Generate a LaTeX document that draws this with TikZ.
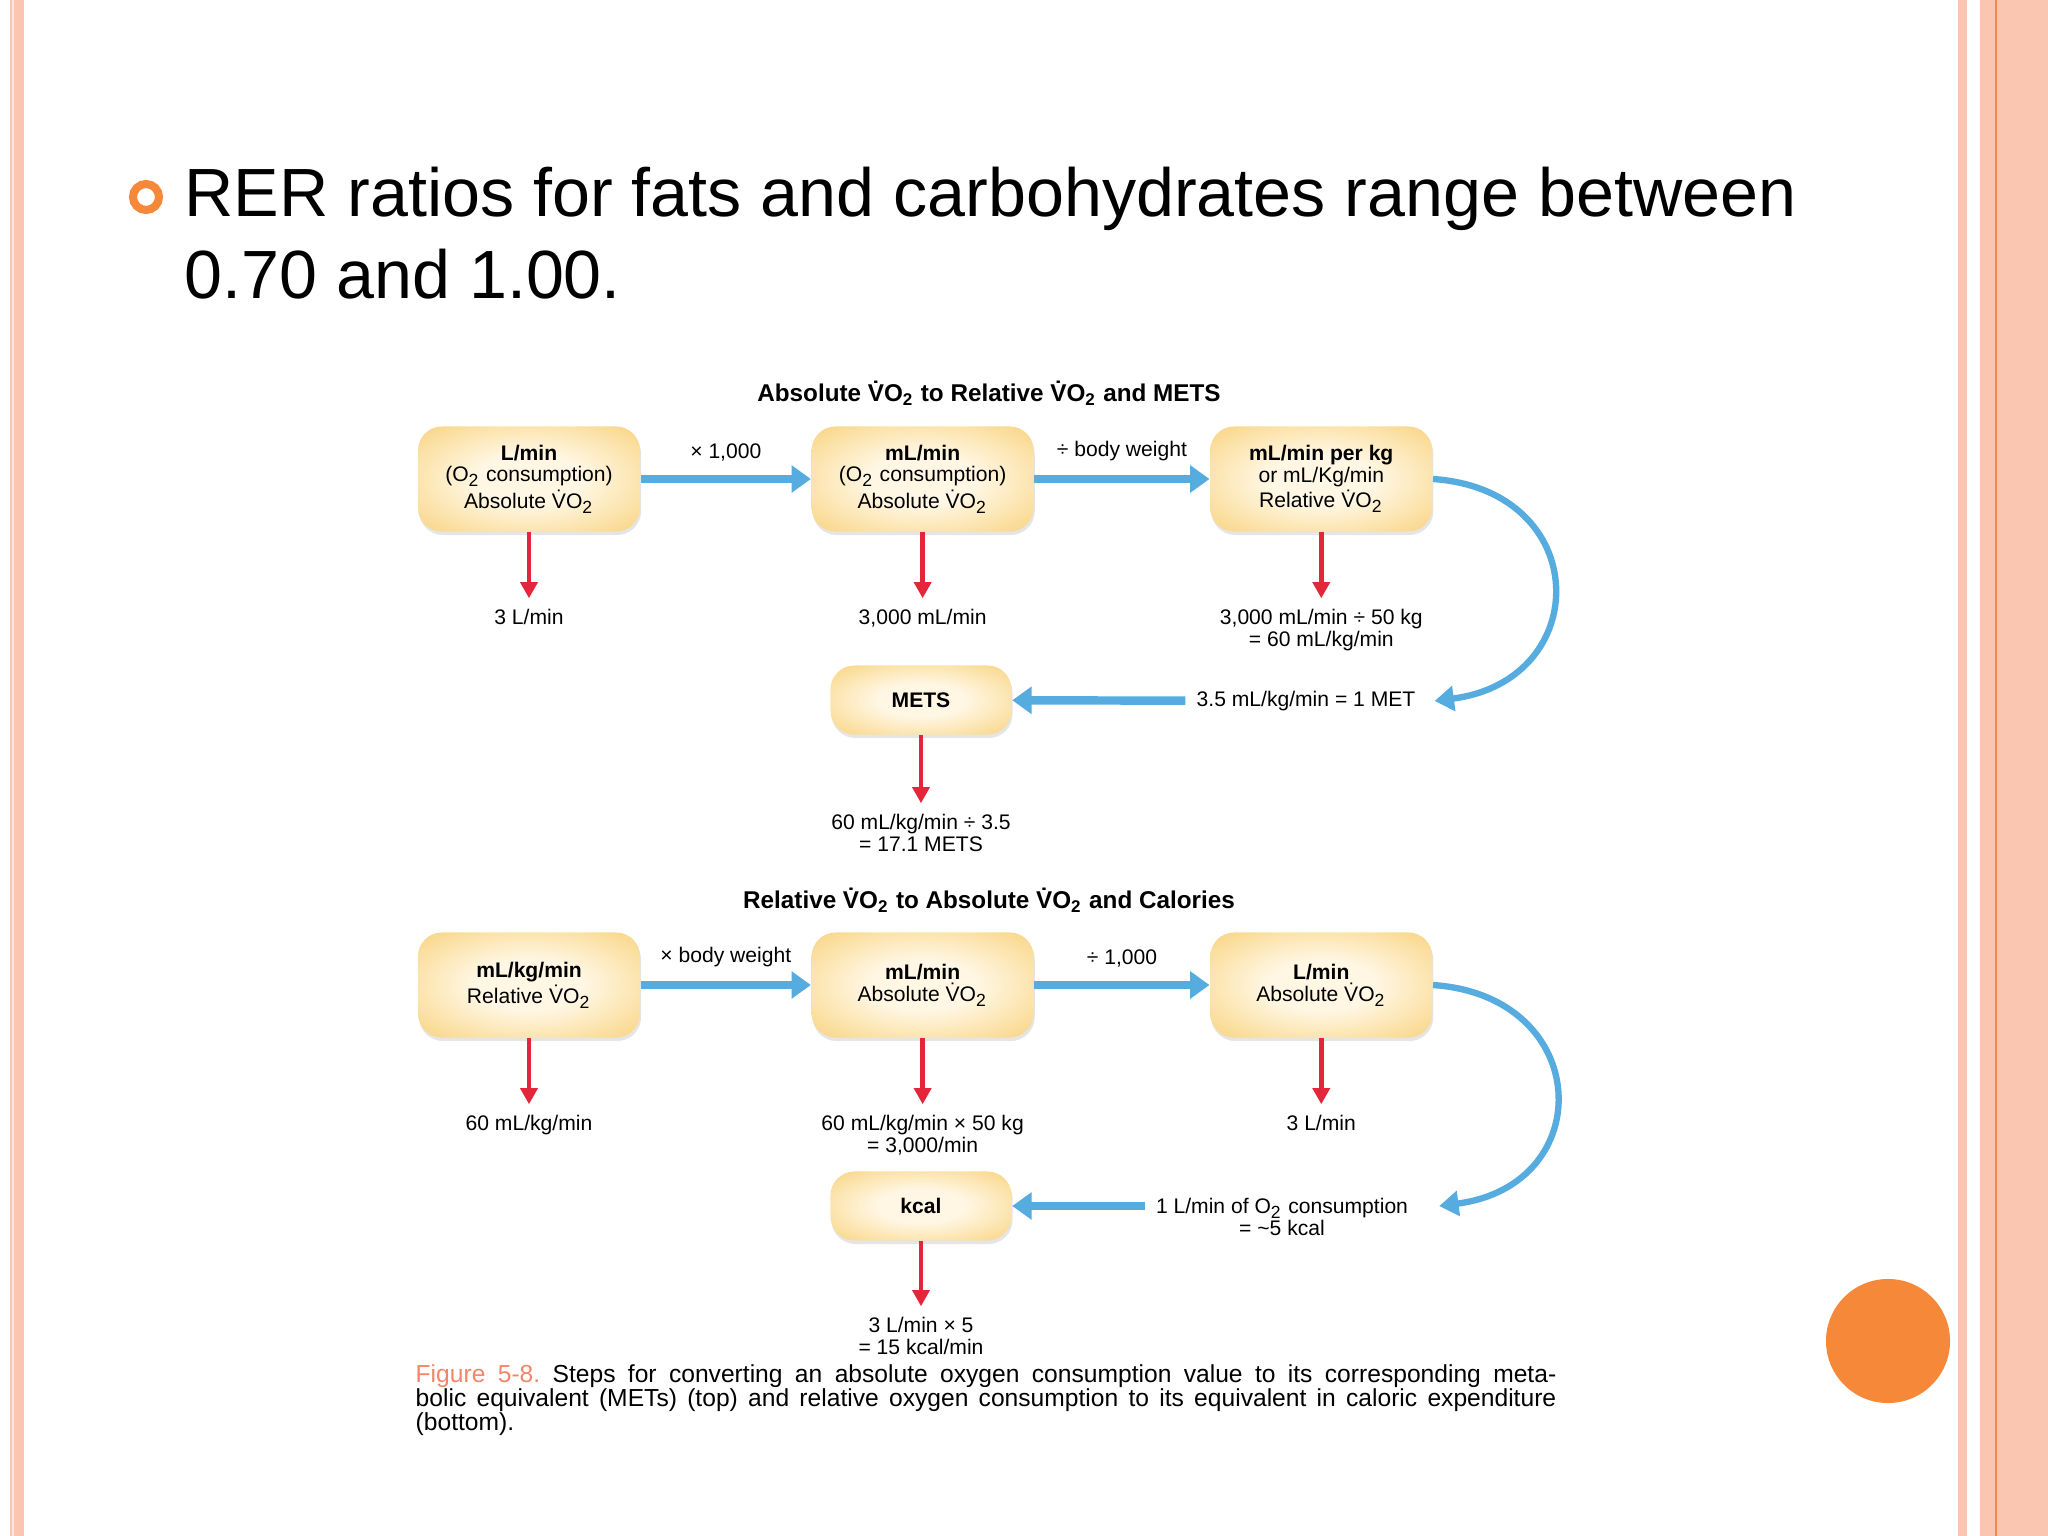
\documentclass[tikz,border=0pt]{standalone}
\usepackage{fontspec}
\setmainfont{Liberation Sans}
\usetikzlibrary{arrows.meta,calc,positioning,shadows}
\definecolor{Salmon}{HTML}{FBC6B1}
\definecolor{SalmonLine}{HTML}{F08A4E}
\definecolor{Orange}{HTML}{F6883A}
\definecolor{Sky}{HTML}{56ACDF}
\definecolor{Alert}{HTML}{E3263A}
\definecolor{BoxIn}{HTML}{FFF7E4}
\definecolor{BoxMid}{HTML}{FADB95}
\definecolor{BoxOut}{HTML}{F2BE5A}
\definecolor{FigRed}{HTML}{F5856A}
\pgfdeclareradialshading{glow}{\pgfpoint{0bp}{0bp}}{color(0bp)=(BoxIn); color(12bp)=(BoxIn);
  color(31bp)=(BoxMid); color(45bp)=(BoxOut); color(70bp)=(BoxOut)}
\newcommand{\VOtwo}{\.{V}O\textsubscript{2}}

\begin{document}
\begin{tikzpicture}[x=0.01cm,y=-0.01cm,
    bubble/.style={rounded corners=0.24cm,shade,shading=glow,
      minimum width=2.22cm,minimum height=1.05cm,align=center,
      font=\fontsize{6}{6.2}\selectfont,
      drop shadow={opacity=0.2,shadow xshift=0.3pt,shadow yshift=-1pt}},
    pill/.style={bubble,minimum width=1.81cm,minimum height=0.69cm},
    val/.style={align=center,inner sep=3pt,font=\fontsize{6}{6.2}\selectfont},
    heading/.style={font=\bfseries\fontsize{6.9}{7.5}\selectfont},
    bluearrow/.style={draw=Sky,line width=2.4pt,-{Triangle[length=5.5pt,width=7.5pt]}},
    redarrow/.style={draw=Alert,line width=1.3pt,-{Triangle[length=4.6pt,width=4.8pt]}},
    swing/.style={draw=Sky,line width=1.8pt,-{Triangle[length=5.5pt,width=7pt]}}]
  \useasboundingbox (0,0) rectangle (2048,1536);
  \fill[white] (0,0) rectangle (2048,1536);
  % slide frame
  \fill[Salmon] (10,0) rectangle (24,1536);
  \fill[white!55!Salmon] (12,0) rectangle (14,1536);
  \fill[Salmon] (1958,0) rectangle (1967,1536);
  \fill[Salmon] (1980,0) rectangle (2048,1536);
  \draw[SalmonLine,line width=0.45pt] (1996,0) -- (1996,1536);
  \fill[Orange] (1888,1341) circle[radius=0.62cm];

  % bullet text
  \node[circle,draw=Orange,line width=2.3pt,minimum size=0.26cm,inner sep=0] (dot) at (146,197) {};
  \node[anchor=north west,inner sep=0,align=left,font=\fontsize{19.4}{23.3}\selectfont] (rer) at (184,166)
    {RER ratios for fats and carbohydrates range between\\0.70 and 1.00.};

  % absolute to relative
  \node[heading] (t1) at (989,393) {Absolute \VOtwo{} to Relative \VOtwo{}\ and METS};
  \node[bubble] (absL) at (529,479) {\textbf{L/min}\\(O\textsubscript{2} consumption)\\Absolute \VOtwo};
  \node[bubble,right=1.7cm of absL] (absmL) {\textbf{mL/min}\\(O\textsubscript{2} consumption)\\Absolute \VOtwo};
  \node[bubble,right=1.75cm of absmL] (relkg) {\textbf{mL/min per kg}\\or mL/Kg/min\\Relative \VOtwo};
  \node[val,below=0.66cm of absL] (valA) {3 L/min};
  \node[val,below=0.66cm of absmL] (valB) {3,000 mL/min};
  \node[val,below=0.66cm of relkg] (valC) {3,000 mL/min ÷ 50 kg\\= 60 mL/kg/min};
  \node[pill] (mets) at (921,700) {\textbf{METS}};
  \node[val] (metlbl) at (1306,701) {3.5 mL/kg/min = 1 MET};
  \node[val,below=0.68cm of mets] (valD) {60 mL/kg/min ÷ 3.5\\= 17.1 METS};
  \draw[bluearrow] (absL) -- node[val,above=1pt] {× 1,000} (absmL);
  \draw[bluearrow] (absmL) -- node[val,above=1pt] {÷ body weight} (relkg);
  \draw[redarrow] (absL) -- (valA);
  \draw[redarrow] (absmL) -- (valB);
  \draw[redarrow] (relkg) -- (valC);
  \draw[redarrow] (mets) -- (valD);
  \draw[bluearrow] (metlbl) -- (mets);
  \draw[swing] (relkg.east) .. controls +(160,11) and +(160,-21) .. ([xshift=0.08cm]metlbl.east);

  % relative to absolute
  \node[heading] (t2) at (989,900) {Relative \VOtwo{} to Absolute \VOtwo{}\ and Calories};
  \node[bubble] (relB) at (529,985) {\textbf{mL/kg/min}\\Relative \VOtwo};
  \node[bubble,right=1.7cm of relB] (absB) {\textbf{mL/min}\\Absolute \VOtwo};
  \node[bubble,right=1.75cm of absB] (litB) {\textbf{L/min}\\Absolute \VOtwo};
  \node[val,below=0.66cm of relB] (valE) {60 mL/kg/min};
  \node[val,below=0.66cm of absB] (valF) {60 mL/kg/min × 50 kg\\= 3,000/min};
  \node[val,below=0.66cm of litB] (valG) {3 L/min};
  \node[pill] (kcal) at (921,1206) {\textbf{kcal}};
  \node[val] (kcallbl) at (1282,1217) {1 L/min of O\textsubscript{2} consumption\\= \textasciitilde5 kcal};
  \node[val,below=0.65cm of kcal] (valH) {3 L/min × 5\\= 15 kcal/min};
  \draw[bluearrow] (relB) -- node[val,above=1pt] {× body weight} (absB);
  \draw[bluearrow] (absB) -- node[val,above=1pt] {÷ 1,000} (litB);
  \draw[redarrow] (relB) -- (valE);
  \draw[redarrow] (absB) -- (valF);
  \draw[redarrow] (litB) -- (valG);
  \draw[redarrow] (kcal) -- (valH);
  \draw[bluearrow] (kcal.east -| kcallbl.west) -- (kcal.east);
  \draw[swing] (litB.east) .. controls +(160,11) and +(160,-21) .. ([xshift=0.2cm]kcal.east -| kcallbl.east);

  % caption
  \node[anchor=north west,inner sep=0,align=left,font=\frenchspacing\fontsize{7}{6.85}\selectfont] (cap) at (415,1364)
    {\makebox[11.4cm][s]{\textcolor{FigRed}{Figure 5-8.} Steps for converting an absolute oxygen consumption value to its corresponding meta-}\\
     \makebox[11.4cm][s]{bolic equivalent (METs) (top) and relative oxygen consumption to its equivalent in caloric expenditure}\\
     (bottom).};
\end{tikzpicture}
\end{document}
